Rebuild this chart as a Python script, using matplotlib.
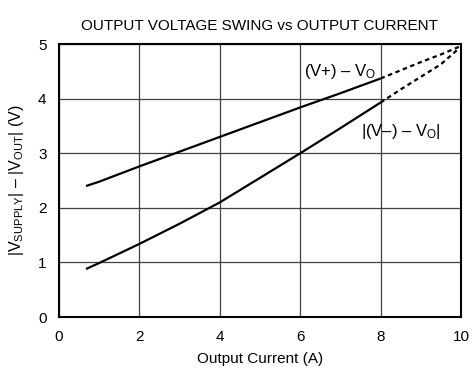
import matplotlib
matplotlib.use("Agg")
import matplotlib.pyplot as plt

plt.rcParams['font.family'] = ['Liberation Sans', 'DejaVu Sans']
plt.rcParams['mathtext.fontset'] = 'custom'
plt.rcParams['mathtext.rm'] = 'Liberation Sans'
plt.rcParams['mathtext.it'] = 'Liberation Sans'

# Data
upper_x = [0.67, 1, 2, 3, 4, 5, 6, 7, 8]
upper_y = [2.40, 2.48, 2.76, 3.03, 3.30, 3.57, 3.84, 4.10, 4.37]
upper_dash_x = [8, 8.5, 9, 9.5, 9.95]
upper_dash_y = [4.37, 4.52, 4.67, 4.81, 4.95]

lower_x = [0.67, 1, 2, 3, 4, 5, 6, 7, 8]
lower_y = [0.88, 0.99, 1.34, 1.71, 2.10, 2.55, 3.00, 3.46, 3.93]
lower_dash_x = [8, 8.5, 9, 9.5, 9.95]
lower_dash_y = [3.93, 4.17, 4.40, 4.63, 4.92]

x_ticks = [0, 2, 4, 6, 8, 10]
y_ticks = [0, 1, 2, 3, 4, 5]

fig = plt.figure(figsize=(4.74, 3.77), dpi=100)
ax = fig.add_axes([0.1245, 0.159, 0.848, 0.724])

ax.plot(upper_x, upper_y, color='black', lw=1.6, solid_capstyle='butt')
ax.plot(upper_dash_x, upper_dash_y, color='black', lw=1.6, linestyle=(0, (2, 1.6)))
ax.plot(lower_x, lower_y, color='black', lw=1.6, solid_capstyle='butt')
ax.plot(lower_dash_x, lower_dash_y, color='black', lw=1.6, linestyle=(0, (2, 1.6)))

ax.set_xlim(0, 10)
ax.set_ylim(0, 5)
ax.set_xticks(x_ticks)
ax.set_yticks(y_ticks)
ax.grid(True, color='#404040', lw=0.9)
ax.set_axisbelow(True)
ax.tick_params(length=0, labelsize=11, pad=9)
for s in ax.spines.values():
    s.set_linewidth(1.5)
    s.set_color('black')

ax.set_xlabel('Output Current (A)', fontsize=11, labelpad=6)
ax.set_ylabel(r'|V$_\mathrm{SUPPLY}$| – |V$_\mathrm{OUT}$| (V)', fontsize=11.5, labelpad=9)
ax.set_title('OUTPUT VOLTAGE SWING vs OUTPUT CURRENT', fontsize=11, pad=10)

ax.text(6.1, 4.49, r'(V+) – V$_\mathrm{O}$', fontsize=12, va='center', ha='left')
ax.text(7.52, 3.39, r'|(V–) – V$_\mathrm{O}$|', fontsize=12, va='center', ha='left')

fig.savefig('out.png', dpi=100)
